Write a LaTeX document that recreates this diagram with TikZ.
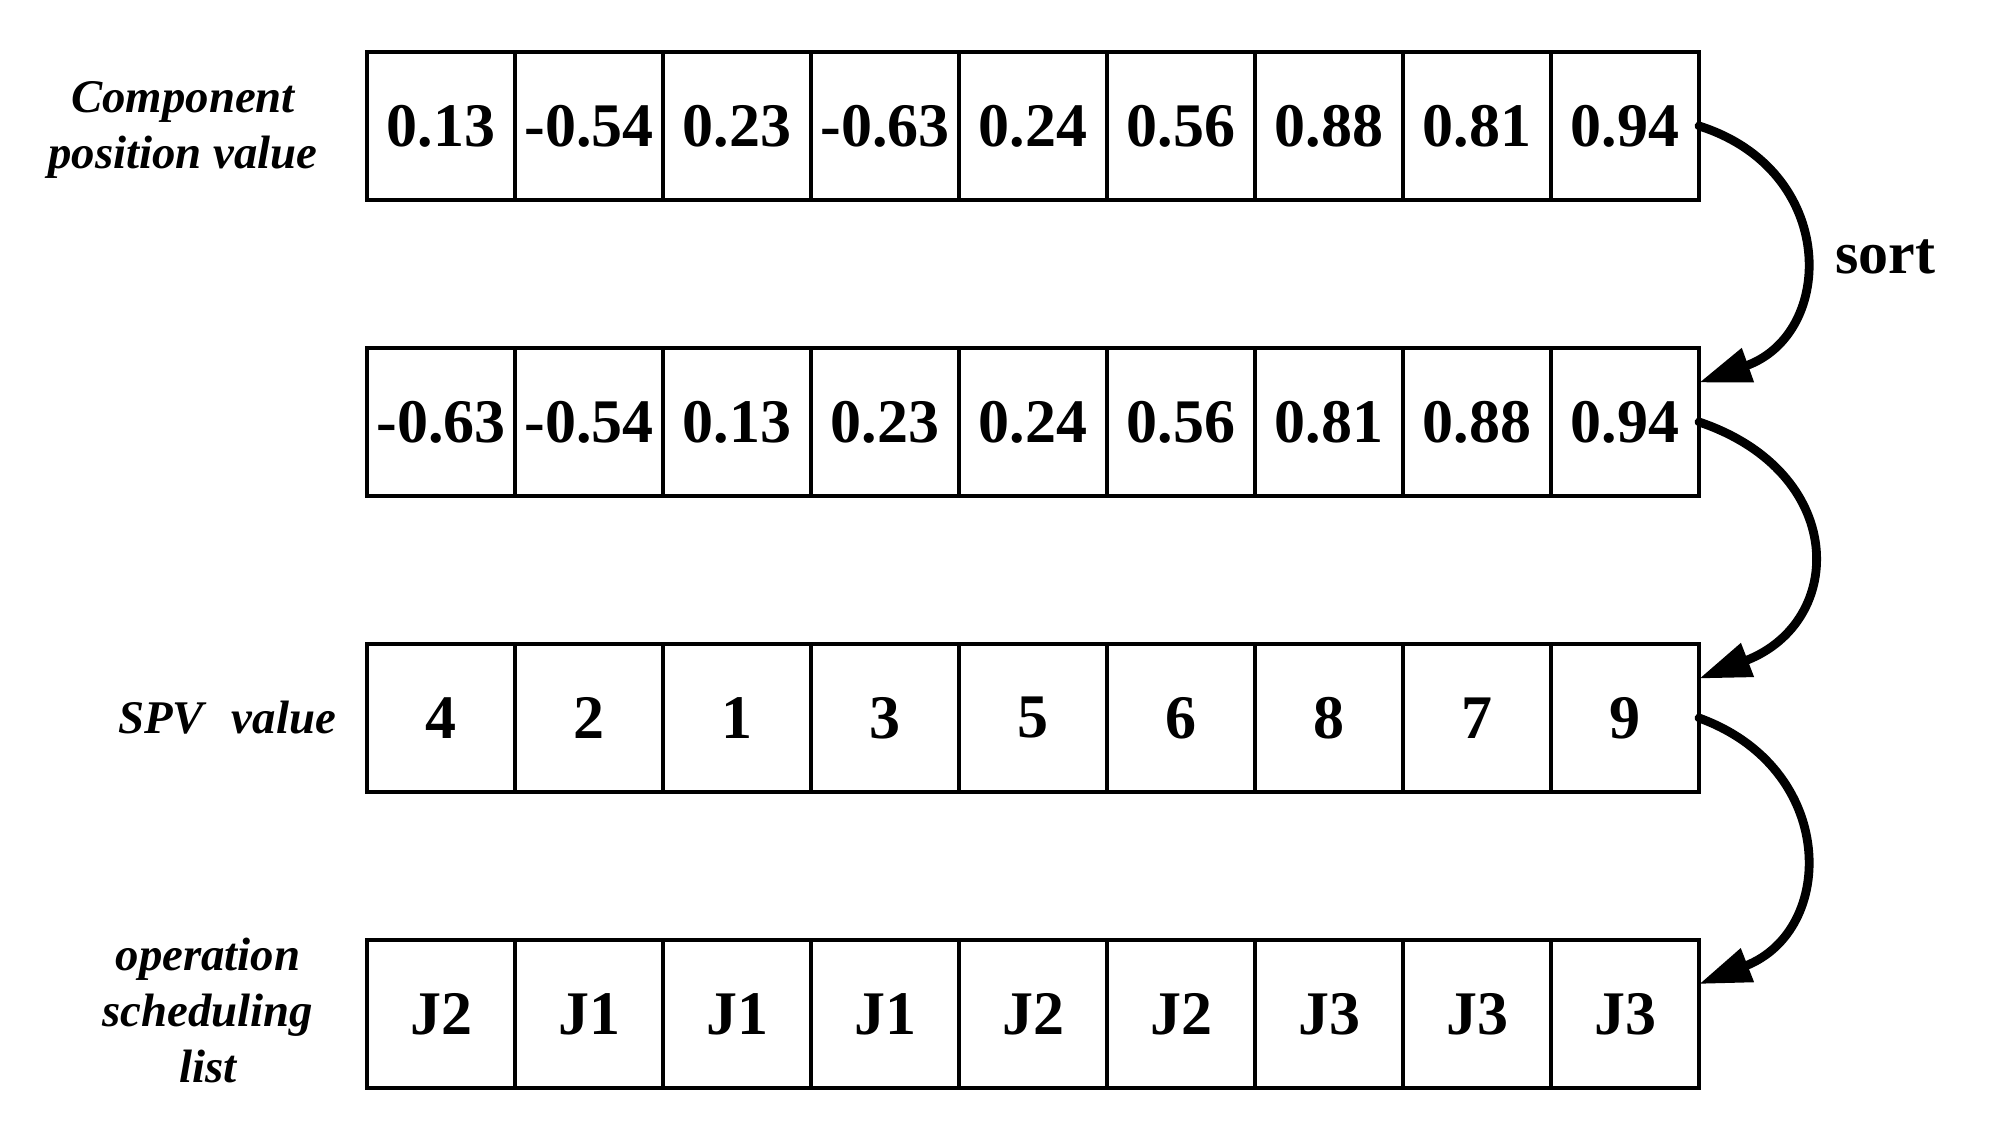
\documentclass[tikz,border=0pt]{standalone}
\usepackage{fontspec}
\setmainfont{Liberation Serif}
\usetikzlibrary{positioning,arrows.meta}
\tikzset{
    every picture/.style={
        line width=1.2pt
    },
    % Style for one cell of an array
    cell/.style={
        draw,
        minimum size=37pt,
        inner sep=0pt,
        outer sep=0pt,
        font=\bfseries\fontsize{15.5}{18}\selectfont
    },
    % Style for the labels left of the arrays
    row label/.style={
        font=\bfseries\itshape\fontsize{11.7}{14}\selectfont,
        align=center
    },
    step arrow/.style={
        line width=2.2pt,
        line cap=round,
        -{Triangle[length=13pt,width=8.5pt]}
    }
}

\begin{document}
\begin{tikzpicture}[x=0.25pt,y=-0.25pt]

% Set the canvas size
\path[use as bounding box] (0,0) rectangle (1992,1130);

% Row labels
\node[row label] (labpos) at (183,130) {Component\\position value};
\node[row label] (labspv) at (227,718) {SPV\hspace{0.6em}value};
\node[row label] (labops) at (208,1010) {operation\\scheduling\\list};

% Component position values
\node[cell] (a1) at (441,126) {0.13};
\node[cell, right=0pt of a1] (a2) {-0.54};
\node[cell, right=0pt of a2] (a3) {0.23};
\node[cell, right=0pt of a3] (a4) {-0.63};
\node[cell, right=0pt of a4] (a5) {0.24};
\node[cell, right=0pt of a5] (a6) {0.56};
\node[cell, right=0pt of a6] (a7) {0.88};
\node[cell, right=0pt of a7] (a8) {0.81};
\node[cell, right=0pt of a8] (a9) {0.94};

% Sorted values
\node[cell] (b1) at (441,422) {-0.63};
\node[cell, right=0pt of b1] (b2) {-0.54};
\node[cell, right=0pt of b2] (b3) {0.13};
\node[cell, right=0pt of b3] (b4) {0.23};
\node[cell, right=0pt of b4] (b5) {0.24};
\node[cell, right=0pt of b5] (b6) {0.56};
\node[cell, right=0pt of b6] (b7) {0.81};
\node[cell, right=0pt of b7] (b8) {0.88};
\node[cell, right=0pt of b8] (b9) {0.94};

% SPV values
\node[cell] (c1) at (441,718) {4};
\node[cell, right=0pt of c1] (c2) {2};
\node[cell, right=0pt of c2] (c3) {1};
\node[cell, right=0pt of c3] (c4) {3};
\node[cell, right=0pt of c4] (c5) {5};
\node[cell, right=0pt of c5] (c6) {6};
\node[cell, right=0pt of c6] (c7) {8};
\node[cell, right=0pt of c7] (c8) {7};
\node[cell, right=0pt of c8] (c9) {9};

% Operation scheduling list
\node[cell] (d1) at (441,1014) {J2};
\node[cell, right=0pt of d1] (d2) {J1};
\node[cell, right=0pt of d2] (d3) {J1};
\node[cell, right=0pt of d3] (d4) {J1};
\node[cell, right=0pt of d4] (d5) {J2};
\node[cell, right=0pt of d5] (d6) {J2};
\node[cell, right=0pt of d6] (d7) {J3};
\node[cell, right=0pt of d7] (d8) {J3};
\node[cell, right=0pt of d8] (d9) {J3};

% Curved arrows between the rows
\draw[step arrow] (a9.east) .. controls +(139,44) and +(137,-49) .. (b9.28);
\draw[step arrow] (b9.east) .. controls +(148,50) and +(148,-57) .. (c9.28);
\draw[step arrow] (c9.east) .. controls +(138,50) and +(138,-54) .. (d9.22);
\node[font=\bfseries\fontsize{15}{18}\selectfont] (sortlabel) at (1885,257) {sort};

\end{tikzpicture}
\end{document}
